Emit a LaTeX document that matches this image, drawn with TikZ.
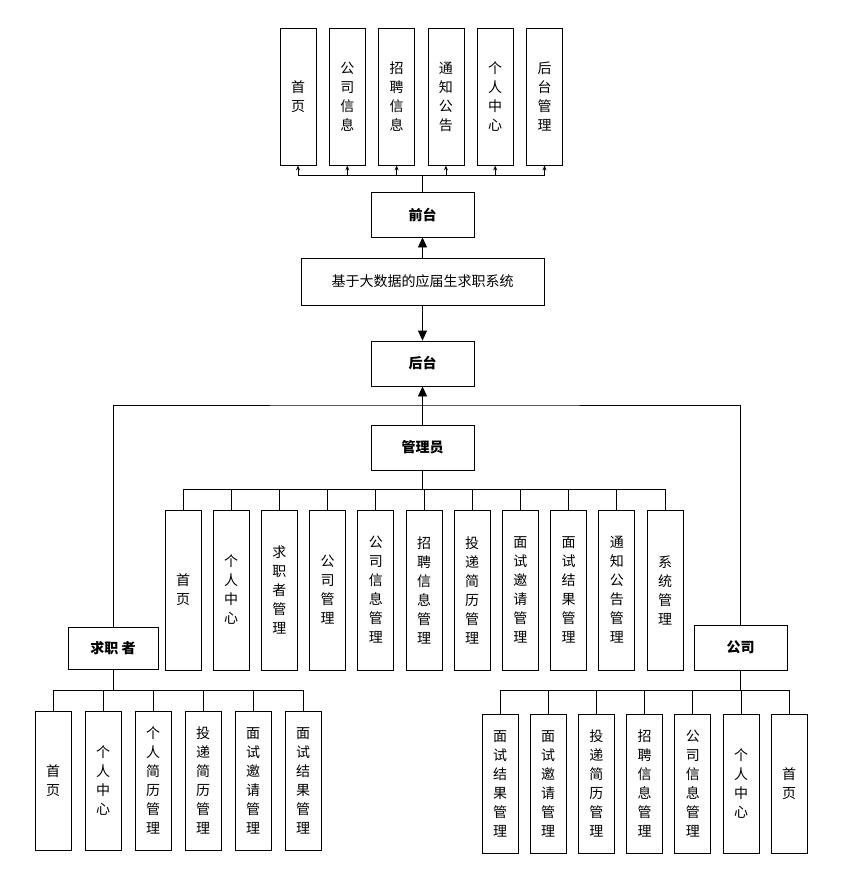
\documentclass[tikz,border=0pt]{standalone}
\usepackage{fontspec}
\setmainfont{Noto Sans CJK SC}
\usetikzlibrary{arrows.meta}
\begin{document}
\begin{tikzpicture}[x=1pt,y=-1pt,
  box/.style={draw,line width=0.8pt,inner sep=0pt,minimum width=36pt,align=center,font=\fontsize{14}{19}\selectfont},
  hb/.style={draw,line width=0.8pt,inner sep=0pt,minimum width=103pt,minimum height=45pt,font=\bfseries\fontsize{14}{17}\selectfont},
  ln/.style={line width=0.8pt},
  big/.style={ln,-{Triangle[length=10pt,width=9pt]}},
  sm/.style={ln,-{Stealth[length=5pt,width=4pt,open]}}]
\useasboundingbox (0,0) rectangle (862,871);
% top
\foreach \t [count=\i] in {首\\页,公\\司\\信\\息,招\\聘\\信\\息,通\\知\\公\\告,个\\人\\中\\心,后\\台\\管\\理}{
  \node[box,minimum height=137pt] (t\i) at ({298+49.3*(\i-1)},96.5) {\t};}
\node[hb] (qt) at (422.5,214.5) {前台};
\node[draw,line width=0.8pt,minimum width=243pt,minimum height=47pt,font=\fontsize{14}{17}\selectfont] (sys) at (422.5,281.5) {基于大数据的应届生求职系统};
\node[hb] (ht) at (422.5,363.5) {后台};
\node[hb] (gly) at (422.5,447.5) {管理员};
\node[draw,line width=0.8pt,minimum width=90pt,minimum height=42pt,font=\bfseries\fontsize{14}{17}\selectfont] (qzz) at (113,648) {求职 者};
\node[draw,line width=0.8pt,minimum width=93pt,minimum height=45pt,font=\bfseries\fontsize{14}{17}\selectfont] (gs) at (740.5,647.5) {公司};
\coordinate (tb) at (422.5,175);
\draw[ln] (qt.north) -- (tb);
\draw[ln] (t1.south|-tb) -- (t6.south|-tb);
\foreach \i in {1,...,6} \draw[sm] (t\i.south|-tb) -- (t\i.south);
\draw[big] (sys.north) -- (qt.south);
\draw[big] (sys.south) -- (ht.north);
\coordinate (hb) at (422.5,405);
\draw[big] (gly.north) -- (ht.south);
\draw[ln] (qzz.north) |- (hb) -| (gs.north);
% admin
\foreach \t [count=\i] in {首\\页,个\\人\\中\\心,求\\职\\者\\管\\理,公\\司\\管\\理,公\\司\\信\\息\\管\\理,招\\聘\\信\\息\\管\\理,投\\递\\简\\历\\管\\理,面\\试\\邀\\请\\管\\理,面\\试\\结\\果\\管\\理,通\\知\\公\\告\\管\\理,系\\统\\管\\理}{
  \node[box,minimum height=160pt] (a\i) at ({183+48.2*(\i-1)},590) {\t};}
\coordinate (ab) at (422.5,489);
\draw[ln] (gly.south) -- (ab);
\draw[ln] (a1.north|-ab) -- (a11.north|-ab);
\foreach \i in {1,...,11} \draw[ln] (a\i.north|-ab) -- (a\i.north);
% seeker
\foreach \t [count=\i] in {首\\页,个\\人\\中\\心,个\\人\\简\\历\\管\\理,投\\递\\简\\历\\管\\理,面\\试\\邀\\请\\管\\理,面\\试\\结\\果\\管\\理}{
  \node[box,minimum height=139pt] (s\i) at ({53+50*(\i-1)},780.5) {\t};}
\coordinate (sb) at (113,690);
\draw[ln] (qzz.south) -- (sb);
\draw[ln] (s1.north|-sb) -- (s6.north|-sb);
\foreach \i in {1,...,6} \draw[ln] (s\i.north|-sb) -- (s\i.north);
% company
\foreach \t [count=\i] in {面\\试\\结\\果\\管\\理,面\\试\\邀\\请\\管\\理,投\\递\\简\\历\\管\\理,招\\聘\\信\\息\\管\\理,公\\司\\信\\息\\管\\理,个\\人\\中\\心,首\\页}{
  \node[box,minimum height=139pt] (c\i) at ({500+48.2*(\i-1)},783.5) {\t};}
\coordinate (cb) at (740.5,690);
\draw[ln] (gs.south) -- (cb);
\draw[ln] (c1.north|-cb) -- (c7.north|-cb);
\foreach \i in {1,...,7} \draw[ln] (c\i.north|-cb) -- (c\i.north);
\end{tikzpicture}
\end{document}
